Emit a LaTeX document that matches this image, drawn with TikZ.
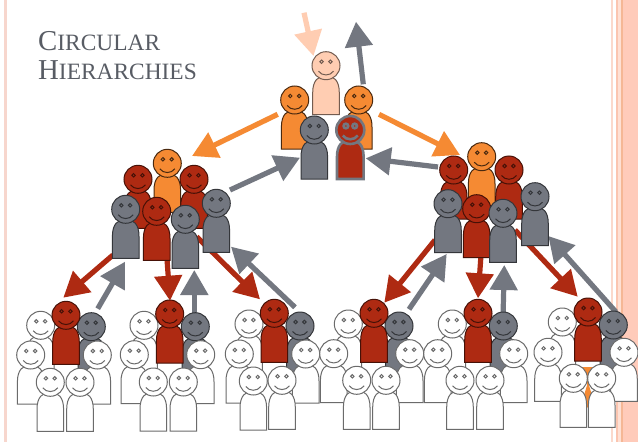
\documentclass[tikz,border=0pt]{standalone}
\usepackage{fontspec}
\setmainfont{Liberation Serif}
\usetikzlibrary{arrows.meta}
\definecolor{cOrange}{HTML}{F58A33}
\definecolor{cPeach}{HTML}{FFCDB2}
\definecolor{cRed}{HTML}{AE2A12}
\definecolor{cGrey}{HTML}{737780}
\definecolor{cTitle}{HTML}{585C64}
\tikzset{
  pOrange/.style={fill=cOrange,draw=black!70!cOrange,line width=1pt},
  pPeach/.style={fill=cPeach,draw=black!55!cPeach,line width=1pt},
  pRed/.style={fill=cRed,draw=black!60!cRed,line width=1pt},
  pGrey/.style={fill=cGrey,draw=black!55!cGrey,line width=1pt},
  pWhite/.style={fill=white,draw=black!58,line width=1pt},
  pBoss/.style={fill=cRed,draw=cGrey,line width=2.6pt},
  arr/.style={line width=5.2pt,-{Triangle[length=25pt,width=27pt]}},
  arrOrange/.style={arr,draw=cOrange},
  arrPeach/.style={arr,draw=cPeach},
  arrRed/.style={arr,draw=cRed},
  arrGrey/.style={arr,draw=cGrey},
  titletext/.style={anchor=base west,inner sep=0pt,text=cTitle}
}
% name, x, y, style, eye radius
\newcommand{\person}[5]{%
  \path[#4] ({#2-13.3},{#3+49}) -- ({#2-13.3},{#3+27})
     .. controls ({#2-13.3},{#3+15}) and ({#2-8},{#3+10}) .. ({#2},{#3+10})
     .. controls ({#2+8},{#3+10}) and ({#2+13.3},{#3+15}) .. ({#2+13.3},{#3+27})
     -- ({#2+13.3},{#3+49}) -- cycle;
  \node[#4,circle,minimum size=28pt,inner sep=0pt] (#1) at (#2,#3) {};
  \path[#4,fill=none] ({#2-7.5},{#3+5.5}) .. controls ({#2-4},{#3+10.5}) and ({#2+4},{#3+10.5}) .. ({#2+7.5},{#3+5.5});
  \path[#4] ({#2-4.4},{#3-4}) circle[radius=#5];
  \path[#4] ({#2+4.4},{#3-4}) circle[radius=#5];
}
\begin{document}
\begin{tikzpicture}[x=1pt,y=-1pt]
\useasboundingbox (0,0) rectangle (638,442);
\fill[white] (0,0) rectangle (638,442);
% page decoration
\fill[color={rgb,255:red,247;green,214;blue,205}] (3.5,0) rectangle (7,442);
\fill[color={rgb,255:red,251;green,217;blue,204}] (610.5,0) rectangle (612.5,442);
\fill[color={rgb,255:red,251;green,197;blue,176}] (616,0) rectangle (617.5,442);
\fill[color={rgb,255:red,254;green,224;blue,212}] (617.5,0) rectangle (620.5,442);
\fill[color={rgb,255:red,245;green,183;blue,149}] (620.5,0) rectangle (622.5,442);
\fill[color={rgb,255:red,255;green,203;blue,186}] (622.5,0) rectangle (638,442);
% title
\node[titletext] (t1) at (38,50) {\fontsize{28.8}{30}\selectfont C\fontsize{23.4}{30}\selectfont IRCULAR};
\node[titletext] (t2) at (38,79) {\fontsize{28.8}{30}\selectfont H\fontsize{23.4}{30}\selectfont IERARCHIES};
% arrow ends
\coordinate (a1s) at (304,12.7);   \coordinate (a1e) at (313.5,56);
\coordinate (a2s) at (363.3,84.3); \coordinate (a2e) at (356,21.7);
\coordinate (a3s) at (277.7,114.3);\coordinate (a3e) at (192,156);
\coordinate (a4s) at (379,114.3);  \coordinate (a4e) at (460,155);
\coordinate (a5s) at (230,190);    \coordinate (a5e) at (300,157.7);
\coordinate (a6s) at (438,167);    \coordinate (a6e) at (365.7,158.3);
\coordinate (b1s) at (113,255);    \coordinate (b1e) at (63.3,297.7);
\coordinate (b2s) at (97.7,308.7); \coordinate (b2e) at (125,261.7);
\coordinate (b3s) at (166.7,255);  \coordinate (b3e) at (170,300.7);
\coordinate (b4s) at (194.3,318);  \coordinate (b4e) at (194.3,270);
\coordinate (b5s) at (196.7,236.7);\coordinate (b5e) at (260,299.3);
\coordinate (b6s) at (295,307.3);  \coordinate (b6e) at (231,246.7);
\coordinate (c1s) at (435,240);    \coordinate (c1e) at (384.3,302.7);
\coordinate (c2s) at (409,309.3);  \coordinate (c2e) at (446.7,254);
\coordinate (c3s) at (481,255);    \coordinate (c3e) at (478,298.3);
\coordinate (c4s) at (503,318);    \coordinate (c4e) at (504.3,265);
\coordinate (c5s) at (515,230);    \coordinate (c5e) at (577.7,296.7);
\coordinate (c6s) at (616,312);    \coordinate (c6e) at (548.3,236);
\draw[arrPeach] (a1s) -- (a1e);
\draw[arrGrey] (a2s) -- (a2e);
\draw[arrOrange] (a3s) -- (a3e);
\draw[arrOrange] (a4s) -- (a4e);
\draw[arrGrey] (a5s) -- (a5e);
\draw[arrGrey] (a6s) -- (a6e);
\draw[arrRed] (b1s) -- (b1e);
\draw[arrGrey] (b2s) -- (b2e);
\draw[arrRed] (b3s) -- (b3e);
\draw[arrGrey] (b4s) -- (b4e);
\draw[arrRed] (b5s) -- (b5e);
\draw[arrGrey] (b6s) -- (b6e);
\draw[arrRed] (c1s) -- (c1e);
\draw[arrGrey] (c2s) -- (c2e);
\draw[arrRed] (c3s) -- (c3e);
\draw[arrGrey] (c4s) -- (c4e);
\draw[arrRed] (c5s) -- (c5e);
\draw[arrGrey] (c6s) -- (c6e);
% top group
\person{ta}{326}{65.7}{pPeach}{1.7}
\person{tb}{294.7}{100}{pOrange}{1.7}
\person{tc}{358.7}{100}{pOrange}{1.7}
\person{td}{314.3}{130}{pGrey}{1.7}
\person{te}{350.3}{130}{pBoss}{2.3}
% left group
\person{la}{167.3}{163.3}{pOrange}{1.7}
\person{lb}{138}{179.3}{pRed}{1.7}
\person{lc}{194}{179.3}{pRed}{1.7}
\person{ld}{125.7}{209.3}{pGrey}{1.7}
\person{le}{156.7}{211.3}{pRed}{1.7}
\person{lf}{216.3}{203.3}{pGrey}{1.7}
\person{lg}{185.3}{219.3}{pGrey}{1.7}
% right group
\person{ra}{481.7}{156.7}{pOrange}{1.7}
\person{rb}{453.7}{170}{pRed}{1.7}
\person{rc}{509}{170}{pRed}{1.7}
\person{rd}{448}{203.7}{pGrey}{1.7}
\person{re}{476.7}{208.7}{pRed}{1.7}
\person{rf}{535}{196.7}{pGrey}{1.7}
\person{rg}{503}{213.3}{pGrey}{1.7}
% cluster 1
\person{aa}{40.7}{325.3}{pWhite}{1.7}
\person{ab}{91.3}{326.7}{pGrey}{1.7}
\person{ac}{66}{315.3}{pRed}{1.7}
\person{ad}{30.7}{355}{pWhite}{1.7}
\person{ae}{97.3}{355}{pWhite}{1.7}
\person{af}{50.3}{382.3}{pWhite}{1.7}
\person{ag}{80}{382.3}{pWhite}{1.7}
% cluster 2
\person{ba}{144}{325.3}{pWhite}{1.7}
\person{bb}{195.3}{326.7}{pGrey}{1.7}
\person{bc}{169.7}{314}{pRed}{1.7}
\person{bd}{134.3}{354.7}{pWhite}{1.7}
\person{be}{200.7}{354.7}{pWhite}{1.7}
\person{bf}{153.3}{382}{pWhite}{1.7}
\person{bg}{183.3}{382}{pWhite}{1.7}
% cluster 3
\person{ca}{249}{324}{pWhite}{1.7}
\person{cb}{300}{326}{pGrey}{1.7}
\person{cc}{274.3}{313.3}{pRed}{1.7}
\person{cd}{239.3}{354}{pWhite}{1.7}
\person{ce}{305.7}{354}{pWhite}{1.7}
\person{cf}{253.3}{381}{pWhite}{1.7}
\person{cg}{282}{380.3}{pWhite}{1.7}
% cluster 4
\person{da}{348.3}{324}{pWhite}{1.7}
\person{db}{399}{326}{pGrey}{1.7}
\person{dc}{374}{313.3}{pRed}{1.7}
\person{dd}{333.7}{353.7}{pWhite}{1.7}
\person{de}{409.7}{353.7}{pWhite}{1.7}
\person{df}{356.7}{380.3}{pWhite}{1.7}
\person{dg}{386}{380.3}{pWhite}{1.7}
% cluster 5
\person{ea}{452.3}{324}{pWhite}{1.7}
\person{eb}{503.3}{326}{pGrey}{1.7}
\person{ec}{478}{313.3}{pRed}{1.7}
\person{ed}{437.7}{353.7}{pWhite}{1.7}
\person{ee}{513.7}{353.7}{pWhite}{1.7}
\person{ef}{460}{380.3}{pWhite}{1.7}
\person{eg}{490}{380.3}{pWhite}{1.7}
% cluster 6
\person{fa}{562.3}{322}{pWhite}{1.7}
\person{fb}{613.3}{325}{pGrey}{1.7}
\person{fc}{588}{312}{pRed}{1.7}
\person{fd}{548}{352.3}{pWhite}{1.7}
\person{fe}{624}{352.3}{pWhite}{1.7}
\fill[cOrange] (579,367) -- (597,367) -- (588,386) -- cycle;
\fill[cOrange] (588,382) -- (594,402) -- (588,408) -- (582,402) -- cycle;
\person{ff}{573.3}{378.3}{pWhite}{1.7}
\person{fg}{601.7}{378.3}{pWhite}{1.7}
\end{tikzpicture}
\end{document}
